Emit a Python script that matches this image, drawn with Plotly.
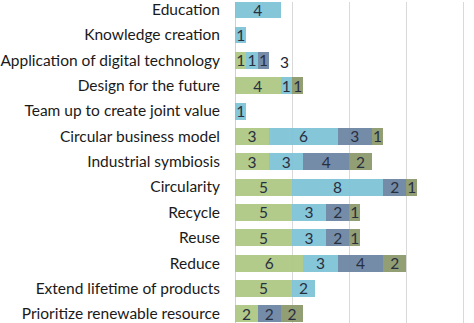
import plotly.graph_objects as go

categories = [
    "Education",
    "Knowledge creation",
    "Application of digital technology",
    "Design for the future",
    "Team up to create joint value",
    "Circular business model",
    "Industrial symbiosis",
    "Circularity",
    "Recycle",
    "Reuse",
    "Reduce",
    "Extend lifetime of products",
    "Prioritize renewable resource",
]
series_green = [0, 0, 1, 4, 0, 3, 3, 5, 5, 5, 6, 5, 2]
series_lightblue = [4, 1, 1, 1, 1, 6, 3, 8, 3, 3, 3, 2, 0]
series_darkblue = [0, 0, 1, 0, 0, 3, 4, 2, 2, 2, 4, 0, 2]
series_olive = [0, 0, 0, 1, 0, 1, 2, 1, 1, 1, 2, 0, 2]
extra_total_label = {"Application of digital technology": 3}

series = [
    (series_green, "#aec884"),
    (series_lightblue, "#7fc3d8"),
    (series_darkblue, "#6e86a5"),
    (series_olive, "#8d9a6e"),
]

fig = go.Figure()
for vals, color in series:
    fig.add_trace(go.Bar(
        y=categories,
        x=vals,
        orientation="h",
        marker=dict(color=color, line=dict(width=0)),
        opacity=0.95,
        width=0.67,
        text=[str(v) if v else "" for v in vals],
        textposition="inside",
        insidetextanchor="middle",
        textangle=0,
        constraintext="none",
        textfont=dict(family="Lato", size=15.5, color="#1c2535"),
        hoverinfo="skip",
        showlegend=False,
    ))

totals = [a + b + c + d for a, b, c, d in zip(series_green, series_lightblue, series_darkblue, series_olive)]
for cat, lab in extra_total_label.items():
    i = categories.index(cat)
    fig.add_annotation(x=totals[i] + 1.3, y=cat, text=str(lab), showarrow=False,
                       font=dict(family="Lato", size=15.5, color="#1c2535"), yshift=-2)

fig.update_layout(
    barmode="stack",
    width=474,
    height=323,
    margin=dict(l=234, r=0, t=0, b=0),
    paper_bgcolor="white",
    plot_bgcolor="white",
    uniformtext=dict(minsize=15, mode="show"),
    font=dict(family="Lato", size=15.5, color="#1a1a1a"),
)
fig.update_xaxes(
    range=[0, 20.96],
    tickvals=[5, 10, 15, 20],
    showgrid=True,
    gridcolor="#d9d9d9",
    gridwidth=1,
    zeroline=True,
    zerolinecolor="#d0d0d0",
    zerolinewidth=1,
    showticklabels=False,
)
fig.update_yaxes(
    categoryorder="array",
    categoryarray=categories,
    range=[12.365, -0.302],
    showgrid=False,
    ticks="",
    ticklabelstandoff=14,
    tickfont=dict(family="Lato", size=15.5, color="#1a1a1a"),
)

fig.write_html("out.html")
